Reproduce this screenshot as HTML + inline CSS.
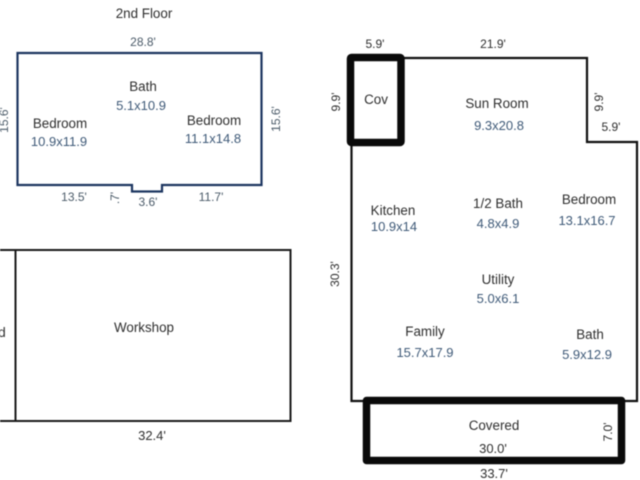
<!DOCTYPE html>
<html>
<head>
<meta charset="utf-8">
<style>
html,body{margin:0;padding:0;background:#fff;width:640px;height:480px;overflow:hidden}
svg{display:block;filter:blur(0.45px)}
text{font-family:"Liberation Sans",Arial,sans-serif;font-size:13.4px;text-anchor:middle}
.k{fill:#2e2e2e}
.b{fill:#3f5a78;font-size:13px}
.g{fill:#4a5a68;font-size:12px}
.d{fill:#2e2e2e;font-size:12px}
.l{font-size:13px}
</style>
</head>
<body>
<svg width="640" height="480" viewBox="0 0 640 480" xmlns="http://www.w3.org/2000/svg">
<rect width="640" height="480" fill="#fff"/>

<!-- 2nd floor -->
<path d="M17.5 53 H261.5 V185 H162 V191.5 H132 V185 H17.5 Z" fill="none" stroke="#1c3560" stroke-width="2.2"/>
<text x="144" y="18" class="k">2nd Floor</text>
<text x="143" y="46" class="g">28.8'</text>
<text x="143" y="91" class="k">Bath</text>
<text x="141" y="110" class="b">5.1x10.9</text>
<text x="60" y="128" class="k">Bedroom</text>
<text x="59" y="146" class="b">10.9x11.9</text>
<text x="214" y="125" class="k">Bedroom</text>
<text x="213" y="143" class="b">11.1x14.8</text>
<text x="74" y="201" class="g">13.5'</text>
<text x="148" y="206" class="g">3.6'</text>
<text x="211" y="201" class="g">11.7'</text>
<text transform="translate(119,198) rotate(-90)" class="g" x="0" y="0">.7'</text>
<text transform="translate(8,120) rotate(-90)" class="g">15.6'</text>
<text transform="translate(280,119) rotate(-90)" class="g">15.6'</text>

<!-- Workshop -->
<path d="M0 250 H290.5 V421 H0" fill="none" stroke="#1a1a1a" stroke-width="2"/>
<path d="M15.5 250 V421" fill="none" stroke="#1a1a1a" stroke-width="2"/>
<text x="144" y="332" class="k">Workshop</text>
<text x="152" y="440" class="l k">32.4'</text>
<text x="2" y="337" class="k">d</text>

<!-- Main floor -->
<path d="M351.5 58 H587 V142 H637 V401 H351.5 Z" fill="none" stroke="#111" stroke-width="2.2"/>
<rect x="350.5" y="57.5" width="50.5" height="85" rx="1" fill="#fff" stroke="#0a0a0a" stroke-width="7.5" stroke-linejoin="round"/>
<rect x="366.5" y="400.5" width="255" height="60" fill="#fff" stroke="#0a0a0a" stroke-width="7.5" stroke-linejoin="round"/>

<text x="375" y="48" class="d">5.9'</text>
<text x="493" y="48" class="d">21.9'</text>
<text x="611" y="131" class="d">5.9'</text>
<text transform="translate(340,102) rotate(-90)" class="d">9.9'</text>
<text transform="translate(603,102) rotate(-90)" class="d">9.9'</text>
<text transform="translate(339,274) rotate(-90)" class="d">30.3'</text>
<text transform="translate(612,432) rotate(-90)" class="d">7.0'</text>

<text x="376" y="104" class="k">Cov</text>
<text x="497" y="108" class="k">Sun Room</text>
<text x="499" y="130" class="b">9.3x20.8</text>
<text x="393" y="215" class="k">Kitchen</text>
<text x="394" y="231" class="b">10.9x14</text>
<text x="498" y="208" class="k">1/2 Bath</text>
<text x="498" y="228" class="b">4.8x4.9</text>
<text x="589" y="204" class="k">Bedroom</text>
<text x="587" y="225" class="b">13.1x16.7</text>
<text x="498" y="284" class="k">Utility</text>
<text x="498" y="303" class="b">5.0x6.1</text>
<text x="425" y="336" class="k">Family</text>
<text x="425" y="357" class="b">15.7x17.9</text>
<text x="590" y="339" class="k">Bath</text>
<text x="587" y="359" class="b">5.9x12.9</text>
<text x="494" y="430" class="k">Covered</text>
<text x="493" y="453" class="l k">30.0'</text>
<text x="494" y="478" class="l k">33.7'</text>
</svg>
</body>
</html>
